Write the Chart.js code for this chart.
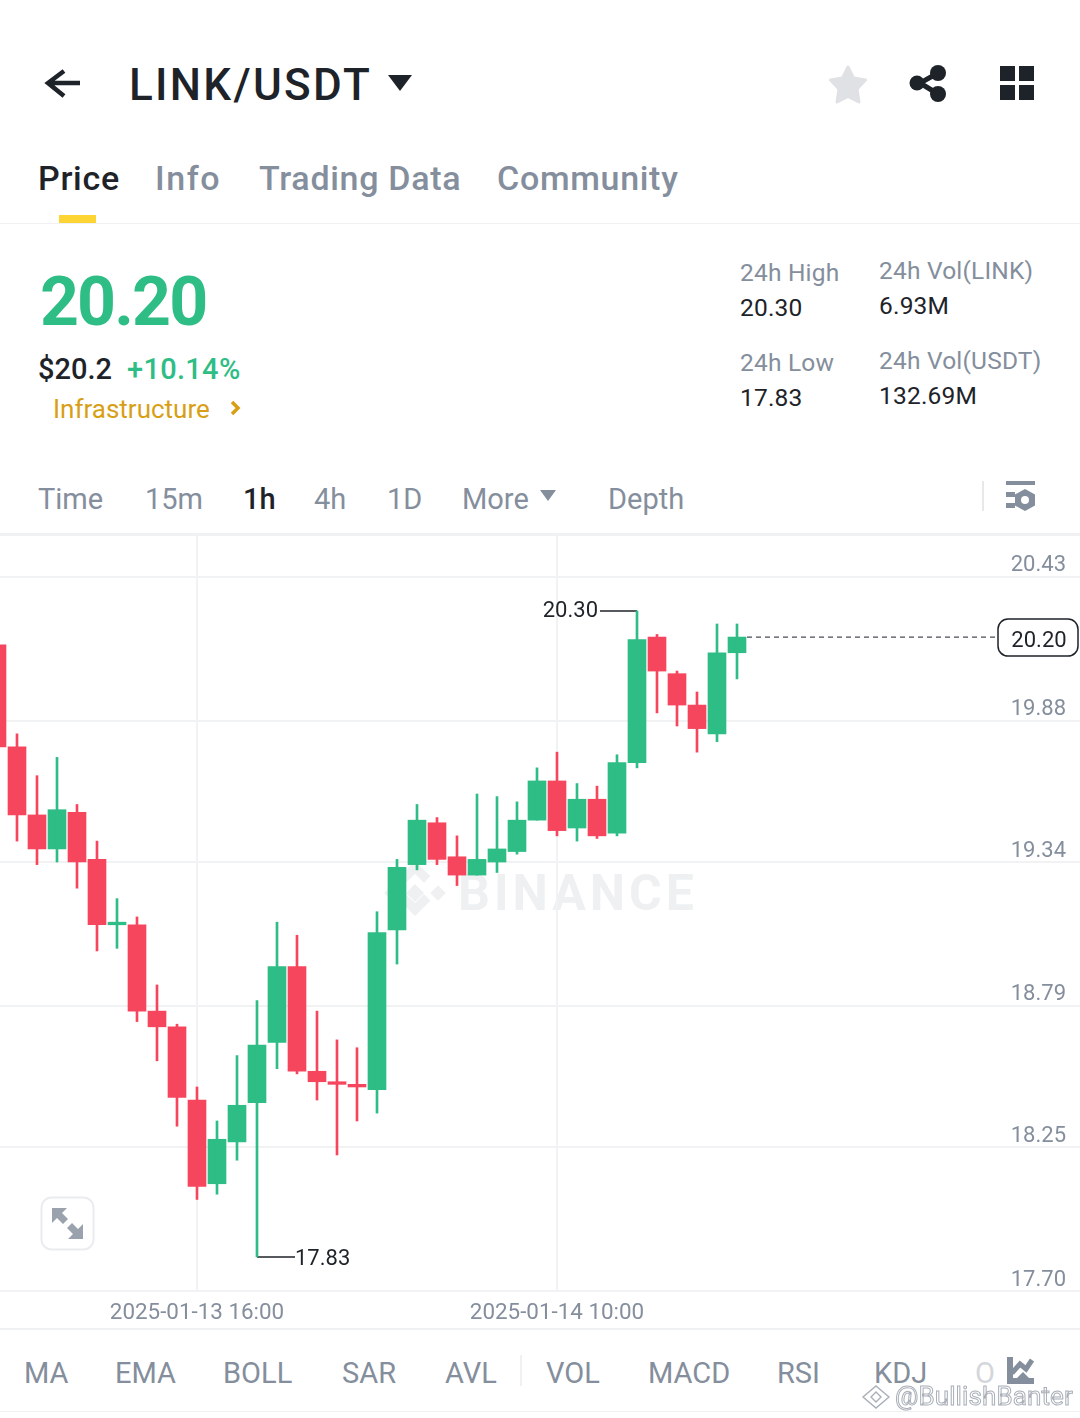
<!DOCTYPE html>
<html>
<head>
<meta charset="utf-8">
<title>LINK/USDT</title>
<script src="https://cdn.jsdelivr.net/npm/chart.js@4/dist/chart.umd.min.js"></script>
<style>
html, body { margin: 0; padding: 0; background: #fff; }
#page { position: relative; width: 1080px; height: 1418px; overflow: hidden; font-family: Roboto, sans-serif; color: #848e9c; }
.t { position: absolute; white-space: nowrap; transform: translateY(-50%); line-height: 1; }
.dark { color: #1e2329; }
.line { position: absolute; background: #f0f1f3; }
svg { position: absolute; overflow: visible; }
#chartBox { position: absolute; left: 0; top: 534px; width: 1080px; height: 794px; }
.mark { position: absolute; color: #eef0f2; font-weight: 700; font-size: 50px; letter-spacing: 4px; left: 458px; top: 893px; }
.tab { font-size: 34px; font-weight: 500; letter-spacing: .7px; top: 178px; }
.stat { font-size: 24.5px; letter-spacing: .2px; }
.range { font-size: 29px; top: 499px; }
.ind { font-size: 29px; top: 1373px; }
</style>
</head>
<body>
<div id="page">
  <svg style="left:0;top:0" width="1080" height="230">
    <path d="M80 83H49M64 71L48 83L64 96" fill="none" stroke="#1e2329" stroke-width="4.5"/>
    <path d="M388 75H412L400 91Z" fill="#1e2329"/>
    <path d="M848 67l5.500 11 12 2-8.500 9 2 13-11-5.500-11 5.500 2-13-8.500-9 12-2z" fill="#dfe1e5" stroke="#dfe1e5" stroke-width="3" stroke-linejoin="round"/>
    <path d="M938 73L920 83L938 94" fill="none" stroke="#1e2329" stroke-width="5"/>
    <circle cx="938" cy="73" r="8" fill="#1e2329"/><circle cx="917" cy="83" r="7.5" fill="#1e2329"/><circle cx="938" cy="94" r="8" fill="#1e2329"/>
    <path d="M1000 66h15v15h-15zM1019 66h15v15h-15zM1000 85h15v15h-15zM1019 85h15v15h-15z" fill="#1e2329"/>
  </svg>
  <span class="t dark" style="left:129px;top:85px;font-size:44px;font-weight:500;letter-spacing:2.3px">LINK/USDT</span>

  <span class="t tab dark" style="left:38px">Price</span>
  <span class="t tab" style="left:155px;letter-spacing:1.6px">Info</span>
  <span class="t tab" style="left:259px">Trading Data</span>
  <span class="t tab" style="left:497px">Community</span>
  <div class="line" style="left:59px;top:215px;width:37px;height:8px;background:#fcd535"></div>
  <div class="line" style="left:0;top:223px;width:1080px;height:1px"></div>

  <span class="t" style="left:40px;top:302px;font-size:68px;font-weight:700;color:#2ebd85;letter-spacing:-1.900px">20.20</span>
  <span class="t dark" style="left:38px;top:369px;font-size:29px;font-weight:500">$20.2</span>
  <span class="t" style="left:127px;top:369px;font-size:29px;font-weight:500;color:#2ebd85;letter-spacing:.3px">+10.14%</span>
  <span class="t" style="left:53px;top:409px;font-size:26px;color:#d89f16">Infrastructure</span>
  <svg style="left:0;top:0" width="300" height="430"><path d="M232 402L238 408L232 414" fill="none" stroke="#d89f16" stroke-width="3.5"/></svg>

  <span class="t stat" style="left:740px;top:273px">24h High</span>
  <span class="t stat dark" style="left:740px;top:308px">20.30</span>
  <span class="t stat" style="left:740px;top:363px">24h Low</span>
  <span class="t stat dark" style="left:740px;top:398px">17.83</span>
  <span class="t stat" style="left:879px;top:271px">24h Vol(LINK)</span>
  <span class="t stat dark" style="left:879px;top:306px">6.93M</span>
  <span class="t stat" style="left:879px;top:361px">24h Vol(USDT)</span>
  <span class="t stat dark" style="left:879px;top:396px">132.69M</span>

  <span class="t range" style="left:38px">Time</span>
  <span class="t range" style="left:145px">15m</span>
  <span class="t range dark" style="left:243px;font-weight:500">1h</span>
  <span class="t range" style="left:314px">4h</span>
  <span class="t range" style="left:387px">1D</span>
  <span class="t range" style="left:462px">More</span>
  <span class="t range" style="left:608px">Depth</span>
  <svg style="left:0;top:0" width="1080" height="530">
    <path d="M540 490H556L548 501Z" fill="#848e9c"/>
    <rect x="982" y="481" width="2" height="30" fill="#e6e8ea"/>
    <path d="M1006 481h29v4h-29zM1006 492h9v5h-9zM1006 503h9v5h-9z" fill="#848e9c"/>
    <path d="M1025 489l10 5.500v11l-10 5.500-10-5.500v-11z" fill="#848e9c"/><circle cx="1025" cy="500" r="4" fill="#fff"/>
  </svg>

  <div class="line" style="left:0;top:533px;width:1080px;height:3px"></div>

  <span class="t mark">BINANCE</span>
  <svg style="left:383px;top:861px" width="64" height="64" viewBox="0 0 50 50">
    <path d="M25 0L37 12 32 17 25 10 18 17 13 12ZM7 19l6 6-6 6-6-6ZM43 19l6 6-6 6-6-6ZM25 18l7 7-7 7-7-7ZM13 31l5 -5 7 7 7-7 5 5-12 12Z" fill="#eef0f2"/>
  </svg>

  <div id="chartBox"><canvas id="klineChart" width="1080" height="794"></canvas></div>

  <svg style="left:0;top:0" width="120" height="1270">
    <rect x="41.500" y="1197.500" width="52" height="52" rx="10" fill="#fff" stroke="#eaecef" stroke-width="2"/>
    <path d="M52 1208h15l-5 5 6 6-5 5-6-6-5 5zM83 1239h-15l5-5-6-6 5-5 6 6 5-5z" fill="#9aa2ae"/>
  </svg>

  <div class="line" style="left:0;top:1328px;width:1080px;height:2px"></div>
  <span class="t ind" style="left:24px">MA</span>
  <span class="t ind" style="left:115px">EMA</span>
  <span class="t ind" style="left:223px">BOLL</span>
  <span class="t ind" style="left:342px">SAR</span>
  <span class="t ind" style="left:445px">AVL</span>
  <div class="line" style="left:520px;top:1355px;width:2px;height:31px"></div>
  <span class="t ind" style="left:546px">VOL</span>
  <span class="t ind" style="left:648px">MACD</span>
  <span class="t ind" style="left:777px">RSI</span>
  <span class="t ind" style="left:874px">KDJ</span>
  <span class="t ind" style="left:975px;color:#d3d6da">O</span>
  <svg style="left:0;top:0" width="1080" height="1418">
    <path d="M1010 1357V1381H1034" fill="none" stroke="#848e9c" stroke-width="6"/>
    <path d="M1012 1373L1020 1364L1026 1369L1032 1360" fill="none" stroke="#848e9c" stroke-width="5"/>
    <path d="M1017 1378L1023 1372L1029 1378Z" fill="#848e9c"/>
    <path d="M876 1386l13 11-13 11-13-11zM876 1392l5 5-5 5-5-5z" fill="none" stroke="#a9afb8" stroke-width="1.4"/>
  </svg>
  <span class="t" style="left:895px;top:1396px;font-size:26px;color:#fff;-webkit-text-stroke:1px #a9afb8;letter-spacing:.1px">@BullishBanter</span>
  <div class="line" style="left:0;top:1411px;width:1080px;height:1px"></div>
</div>

<script>
const candleTimes = [
    '2025-01-13 06:00', '2025-01-13 07:00', '2025-01-13 08:00', '2025-01-13 09:00', '2025-01-13 10:00',
    '2025-01-13 11:00', '2025-01-13 12:00', '2025-01-13 13:00', '2025-01-13 14:00', '2025-01-13 15:00',
    '2025-01-13 16:00', '2025-01-13 17:00', '2025-01-13 18:00', '2025-01-13 19:00', '2025-01-13 20:00',
    '2025-01-13 21:00', '2025-01-13 22:00', '2025-01-13 23:00', '2025-01-14 00:00', '2025-01-14 01:00',
    '2025-01-14 02:00', '2025-01-14 03:00', '2025-01-14 04:00', '2025-01-14 05:00', '2025-01-14 06:00',
    '2025-01-14 07:00', '2025-01-14 08:00', '2025-01-14 09:00', '2025-01-14 10:00', '2025-01-14 11:00',
    '2025-01-14 12:00', '2025-01-14 13:00', '2025-01-14 14:00', '2025-01-14 15:00', '2025-01-14 16:00',
    '2025-01-14 17:00', '2025-01-14 18:00', '2025-01-14 19:00'
];
const opens = [
    20.17, 19.78, 19.52, 19.39, 19.53, 19.35, 19.10, 19.10, 18.77, 18.71,
    18.43, 18.11, 18.27, 18.42, 18.65, 18.94, 18.54, 18.50, 18.49, 18.47,
    19.08, 19.33, 19.49, 19.36, 19.29, 19.34, 19.38, 19.50, 19.65, 19.47,
    19.58, 19.45, 19.72, 20.20, 20.06, 19.94, 19.83, 20.14
];
const closes = [
    19.78, 19.52, 19.39, 19.54, 19.34, 19.10, 19.11, 18.77, 18.71, 18.44,
    18.10, 18.28, 18.41, 18.64, 18.94, 18.54, 18.50, 18.49, 18.48, 19.07,
    19.32, 19.50, 19.35, 19.29, 19.35, 19.39, 19.50, 19.65, 19.46, 19.58,
    19.44, 19.72, 20.19, 20.07, 19.94, 19.85, 20.14, 20.20
];
const highs = [
    20.20, 19.83, 19.67, 19.74, 19.56, 19.42, 19.20, 19.13, 18.87, 18.72,
    18.48, 18.35, 18.60, 18.81, 19.11, 19.06, 18.77, 18.66, 18.63, 19.15,
    19.35, 19.56, 19.51, 19.44, 19.60, 19.59, 19.57, 19.70, 19.76, 19.64,
    19.63, 19.75, 20.30, 20.21, 20.07, 19.99, 20.25, 20.25
];
const lows = [
    19.75, 19.42, 19.33, 19.34, 19.24, 19.00, 19.01, 18.73, 18.58, 18.33,
    18.05, 18.07, 18.20, 17.83, 18.55, 18.53, 18.43, 18.22, 18.35, 18.38,
    18.95, 19.31, 19.33, 19.25, 19.29, 19.30, 19.37, 19.50, 19.44, 19.42,
    19.43, 19.44, 19.70, 19.91, 19.86, 19.76, 19.80, 20.04
];
const priceTicks = [20.43, 19.88, 19.34, 18.79, 18.25, 17.70];
const timeTicks = ['2025-01-13 16:00', '2025-01-14 10:00'];
const lastPrice = 20.20;
const highPrice = 20.30;
const lowPrice = 17.83;

const upColor = '#2ebd85';
const downColor = '#f6465d';
const gridColor = '#f1f2f4';
const axisFont = 'Roboto, sans-serif';

const candleColors = opens.map(function (open, i) {
    return closes[i] >= open ? upColor : downColor;
});
const wickData = candleTimes.map(function (t, i) {
    return { x: i, y: [lows[i], highs[i]] };
});
const bodyData = candleTimes.map(function (t, i) {
    return { x: i, y: [opens[i], closes[i]] };
});
const highIndex = highs.indexOf(highPrice);
const lowIndex = lows.indexOf(lowPrice);
const lastIndex = candleTimes.length - 1;

// leaders for the high / low markers and the last price line
function leader(fromX, toX, price, extra) {
    return Object.assign({
        type: 'line',
        data: [{ x: fromX, y: price }, { x: toX, y: price }],
        borderColor: '#1e2329',
        borderWidth: 1.5,
        pointRadius: 0,
        clip: false
    }, extra || {});
}

const priceLabels = {
    id: 'priceLabels',
    afterDatasetsDraw: function (chart) {
        const ctx = chart.ctx;
        const x = chart.scales.x;
        const y = chart.scales.y;
        ctx.save();
        ctx.font = '22px ' + axisFont;
        ctx.fillStyle = '#1e2329';
        ctx.textBaseline = 'middle';

        ctx.textAlign = 'right';
        ctx.fillText(highPrice.toFixed(2), x.getPixelForValue(highIndex - 1.95), y.getPixelForValue(highPrice) + 1);
        ctx.textAlign = 'left';
        ctx.fillText(lowPrice.toFixed(2), x.getPixelForValue(lowIndex + 1.9), y.getPixelForValue(lowPrice) + 3);

        const py = y.getPixelForValue(lastPrice);
        const px = x.getPixelForValue(lastIndex + 13.05);
        ctx.beginPath();
        ctx.roundRect(px, py - 18, 80, 37, 10);
        ctx.fillStyle = '#fff';
        ctx.fill();
        ctx.strokeStyle = '#1e2329';
        ctx.lineWidth = 1.5;
        ctx.stroke();
        ctx.fillStyle = '#1e2329';
        ctx.textAlign = 'center';
        ctx.fillText(lastPrice.toFixed(2), px + 41, py + 4);
        ctx.restore();
    }
};

new Chart(document.getElementById('klineChart'), {
    type: 'bar',
    data: {
        datasets: [
            { data: wickData, backgroundColor: candleColors, barThickness: 2, grouped: false },
            { data: bodyData, backgroundColor: candleColors, barThickness: 18, grouped: false },
            leader(highIndex, highIndex - 1.85, highPrice),
            leader(lowIndex, lowIndex + 1.9, lowPrice),
            leader(lastIndex + 0.5, lastIndex + 13.05, lastPrice, { borderDash: [5, 4], borderWidth: 1.3, borderColor: '#474d57' })
        ]
    },
    options: {
        responsive: false,
        animation: false,
        layout: { padding: 0 },
        plugins: { legend: { display: false }, tooltip: { enabled: false } },
        scales: {
            x: {
                type: 'linear',
                offset: false,
                min: 0.15,
                max: 54.15,
                afterBuildTicks: function (axis) {
                    axis.ticks = timeTicks.map(function (t) {
                        return { value: candleTimes.indexOf(t) };
                    });
                },
                afterFit: function (axis) {
                    axis.height = 37;
                    axis.paddingLeft = 0;
                    axis.paddingRight = 0;
                },
                grid: { color: gridColor, lineWidth: 2, drawTicks: false, offset: false },
                border: { display: false },
                ticks: {
                    autoSkip: false,
                    maxRotation: 0,
                    padding: 9,
                    color: '#848e9c',
                    font: { family: axisFont, size: 22.4 },
                    callback: function (value) {
                        return candleTimes[value];
                    }
                }
            },
            y: {
                position: 'right',
                min: 17.70,
                max: 20.594,
                afterBuildTicks: function (axis) {
                    axis.ticks = priceTicks.map(function (v) {
                        return { value: v };
                    });
                },
                afterFit: function (axis) {
                    axis.width = 0;
                    axis.paddingTop = 0;
                    axis.paddingBottom = 0;
                },
                grid: { color: gridColor, lineWidth: 2, drawTicks: false },
                border: { display: false },
                ticks: {
                    mirror: true,
                    padding: -14,
                    labelOffset: -11,
                    color: '#848e9c',
                    font: { family: axisFont, size: 22 },
                    callback: function (value) {
                        return value.toFixed(2);
                    }
                }
            }
        }
    },
    plugins: [priceLabels]
});
</script>
</body>
</html>
